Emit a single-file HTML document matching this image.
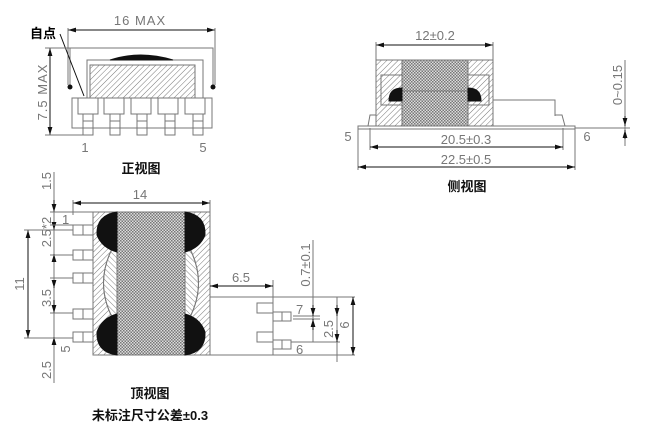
<!DOCTYPE html>
<html><head><meta charset="utf-8"><style>
html,body{margin:0;padding:0;background:#fff;}
svg{display:block;}
.t{font-family:"Liberation Sans","DejaVu Sans",sans-serif;fill:#777;font-size:13px;}
.c{font-family:"Liberation Sans","Noto Sans CJK SC",sans-serif;fill:#111;font-weight:bold;font-size:13px;}
</style></head><body>
<svg width="650" height="433" viewBox="0 0 650 433" xmlns="http://www.w3.org/2000/svg">
<defs>
<pattern id="h" width="4" height="4" patternUnits="userSpaceOnUse" patternTransform="rotate(45)"><rect width="4" height="4" fill="#fff"/><line x1="0" y1="0" x2="0" y2="4" stroke="#777" stroke-width="1"/></pattern>
<pattern id="h2" width="4" height="4" patternUnits="userSpaceOnUse" patternTransform="rotate(-45)"><rect width="4" height="4" fill="#fff"/><line x1="0" y1="0" x2="0" y2="4" stroke="#888" stroke-width="1"/></pattern>
<pattern id="x" width="3" height="3" patternUnits="userSpaceOnUse"><rect width="3" height="3" fill="#ddd"/><rect width="1.5" height="1.5" fill="#777"/><rect x="1.5" y="1.5" width="1.5" height="1.5" fill="#777"/></pattern>
<marker id="a" viewBox="0 0 10 6" refX="10" refY="3" markerWidth="8" markerHeight="5" orient="auto-start-reverse"><path d="M0,0L10,3L0,6z" fill="#111"/></marker>
</defs>
<g stroke="#777" stroke-width="1" fill="none">
<line x1="68" y1="30" x2="215" y2="30" stroke="#111" marker-start="url(#a)" marker-end="url(#a)"/>
<line x1="68" y1="28" x2="68" y2="85"/><line x1="215" y1="28" x2="215" y2="85"/>
<polyline points="70,85 70,48 213,48 213,85"/>
<rect x="72" y="98" width="140" height="30"/>
<rect x="87" y="60" width="116" height="38"/>
<rect x="90" y="65" width="105" height="33" fill="url(#h)"/>
<path d="M110,60 Q140,50 173,60 Z" fill="#111" stroke="#111"/>
<circle cx="70" cy="87" r="2.5" fill="#111" stroke="none"/><circle cx="213" cy="87" r="2.5" fill="#111" stroke="none"/>
<line x1="60" y1="34" x2="84" y2="96" stroke="#111"/>
<g>
<rect x="78" y="98" width="20" height="16"/><rect x="83" y="114" width="10" height="21"/><line x1="83" y1="121" x2="93" y2="121"/><line x1="83" y1="128" x2="93" y2="128"/>
<rect x="104" y="98" width="20" height="16"/><rect x="110" y="114" width="10" height="21"/><line x1="110" y1="121" x2="120" y2="121"/><line x1="110" y1="128" x2="120" y2="128"/>
<rect x="131" y="98" width="20" height="16"/><rect x="137" y="114" width="10" height="21"/><line x1="137" y1="121" x2="147" y2="121"/><line x1="137" y1="128" x2="147" y2="128"/>
<rect x="158" y="98" width="20" height="16"/><rect x="165" y="114" width="10" height="21"/><line x1="165" y1="121" x2="175" y2="121"/><line x1="165" y1="128" x2="175" y2="128"/>
<rect x="185" y="98" width="20" height="16"/><rect x="193" y="114" width="10" height="21"/><line x1="193" y1="121" x2="203" y2="121"/><line x1="193" y1="128" x2="203" y2="128"/>
</g>
<line x1="50" y1="48" x2="50" y2="135" stroke="#111" marker-start="url(#a)" marker-end="url(#a)"/>
<line x1="45" y1="48" x2="70" y2="48"/><line x1="45" y1="135" x2="85" y2="135"/>

<line x1="376" y1="45" x2="493" y2="45" stroke="#111" marker-start="url(#a)" marker-end="url(#a)"/>
<line x1="376" y1="42" x2="376" y2="60"/><line x1="493" y1="42" x2="493" y2="60"/>
<rect x="376" y="60" width="117" height="66" fill="url(#h)"/>
<rect x="402" y="60" width="66" height="66" fill="url(#x)"/>
<rect x="381" y="75" width="21" height="30"/><rect x="468" y="75" width="21" height="30"/>
<line x1="402" y1="91" x2="468" y2="91"/>
<path d="M389,101 Q389,88 402,88 L402,101 Z" fill="#111" stroke="#111"/>
<path d="M481,101 Q481,88 468,88 L468,101 Z" fill="#111" stroke="#111"/>
<polyline points="493,100 555,100 555,116"/>
<polyline points="358,128 358,126 368,126 370,115 376,115"/>
<polyline points="575,128 575,126 565,126 562,115 555,115"/>
<rect x="358" y="126" width="217" height="3"/>
<line x1="575" y1="128" x2="630" y2="128"/>
<line x1="370" y1="128" x2="370" y2="150"/><line x1="563" y1="128" x2="563" y2="150"/>
<line x1="358" y1="128" x2="358" y2="170"/><line x1="575" y1="128" x2="575" y2="170"/>
<line x1="370" y1="147" x2="563" y2="147" stroke="#111" marker-start="url(#a)" marker-end="url(#a)"/>
<line x1="358" y1="167" x2="575" y2="167" stroke="#111" marker-start="url(#a)" marker-end="url(#a)"/>
<line x1="625" y1="60" x2="625" y2="146"/>
<line x1="625" y1="116" x2="625" y2="126" stroke="#111" marker-end="url(#a)"/>
<line x1="625" y1="139" x2="625" y2="130" stroke="#111" marker-end="url(#a)"/>

<line x1="73" y1="203" x2="210" y2="203" stroke="#111" marker-start="url(#a)" marker-end="url(#a)"/>
<line x1="73" y1="200" x2="73" y2="215"/><line x1="210" y1="200" x2="210" y2="212"/>
<rect x="93" y="212" width="117" height="143" fill="url(#h)"/>
<path d="M117,240 Q90,283 117,326 Z" fill="url(#h2)"/>
<path d="M185,240 Q212,283 185,326 Z" fill="url(#h2)"/>
<path d="M117,240 Q90,283 117,326" /><path d="M185,240 Q212,283 185,326"/>
<rect x="117" y="212" width="68" height="143" fill="url(#x)"/>
<path d="M117,212 Q96,215 97,235 Q102,248 117,252 Z" fill="#111" stroke="#111"/>
<path d="M185,212 Q206,215 205,235 Q200,248 185,252 Z" fill="#111" stroke="#111"/>
<path d="M117,355 Q96,352 97,332 Q102,318 117,314 Z" fill="#111" stroke="#111"/>
<path d="M185,355 Q206,352 205,332 Q200,318 185,314 Z" fill="#111" stroke="#111"/>
<g>
<rect x="73" y="225" width="20" height="10"/><line x1="83" y1="225" x2="83" y2="235"/>
<rect x="73" y="250" width="20" height="10"/><line x1="83" y1="250" x2="83" y2="260"/>
<rect x="73" y="273" width="20" height="10"/><line x1="83" y1="273" x2="83" y2="283"/>
<rect x="73" y="309" width="20" height="10"/><line x1="83" y1="309" x2="83" y2="319"/>
<rect x="73" y="332" width="20" height="10"/><line x1="83" y1="332" x2="83" y2="342"/>
</g>
<line x1="54" y1="172" x2="54" y2="383"/>
<line x1="54" y1="200" x2="54" y2="212" stroke="#111" marker-end="url(#a)"/>
<line x1="54" y1="224" x2="54" y2="230" stroke="#111" marker-end="url(#a)"/>
<line x1="54" y1="260" x2="54" y2="254" stroke="#111" marker-end="url(#a)"/>
<line x1="54" y1="282" x2="54" y2="288" stroke="#111" marker-end="url(#a)"/>
<line x1="54" y1="300" x2="54" y2="313" stroke="#111" marker-end="url(#a)"/>
<line x1="54" y1="345" x2="54" y2="337" stroke="#111" marker-end="url(#a)"/>
<line x1="28" y1="230" x2="28" y2="338" stroke="#111" marker-start="url(#a)" marker-end="url(#a)"/>
<line x1="24" y1="230" x2="73" y2="230"/><line x1="24" y1="338" x2="73" y2="338"/>
<line x1="50" y1="212" x2="93" y2="212"/><line x1="50" y1="225" x2="73" y2="225"/>
<line x1="50" y1="255" x2="73" y2="255"/><line x1="50" y1="278" x2="73" y2="278"/><line x1="50" y1="313" x2="73" y2="313"/>
<rect x="210" y="297" width="63" height="58"/>
<line x1="210" y1="355" x2="355" y2="355"/>
<line x1="273" y1="297" x2="355" y2="297"/>
<line x1="273" y1="280" x2="273" y2="297"/>
<line x1="210" y1="286" x2="273" y2="286" stroke="#111" marker-start="url(#a)" marker-end="url(#a)"/>
<rect x="257" y="303" width="16" height="10"/><rect x="273" y="312" width="18" height="9"/><line x1="282" y1="312" x2="282" y2="321"/>
<rect x="257" y="332" width="16" height="10"/><rect x="273" y="340" width="18" height="9"/><line x1="282" y1="340" x2="282" y2="349"/>
<line x1="293" y1="316" x2="320" y2="316"/><line x1="293" y1="319" x2="320" y2="319"/>
<line x1="291" y1="342" x2="340" y2="342"/>
<line x1="313" y1="240" x2="313" y2="342"/>
<line x1="313" y1="305" x2="313" y2="316" stroke="#111" marker-end="url(#a)"/>
<line x1="313" y1="330" x2="313" y2="319" stroke="#111" marker-end="url(#a)"/>
<line x1="337" y1="297" x2="337" y2="362"/>
<line x1="337" y1="305" x2="337" y2="316" stroke="#111" marker-end="url(#a)"/>
<line x1="337" y1="330" x2="337" y2="342" stroke="#111" marker-end="url(#a)"/>
<line x1="353" y1="297" x2="353" y2="355" stroke="#111" marker-start="url(#a)" marker-end="url(#a)"/>
</g>
<text class="t" x="140" y="25" text-anchor="middle" font-size="14" letter-spacing="1">16 MAX</text>
<text class="c" x="30" y="38" font-size="17" style="fill:#000">自点</text>
<text class="t" transform="translate(47,92) rotate(-90)" text-anchor="middle" font-size="13" letter-spacing="1">7.5 MAX</text>
<text class="t" x="85" y="152" text-anchor="middle" font-size="15">1</text>
<text class="t" x="203" y="152" text-anchor="middle" font-size="15">5</text>
<text class="c" x="141" y="173" text-anchor="middle">正视图</text>
<text class="t" x="435" y="40" text-anchor="middle">12±0.2</text>
<text class="t" x="348" y="141" text-anchor="middle">5</text>
<text class="t" x="587" y="141" text-anchor="middle">6</text>
<text class="t" x="466" y="144" text-anchor="middle">20.5±0.3</text>
<text class="t" x="466" y="164" text-anchor="middle">22.5±0.5</text>
<text class="t" transform="translate(622,85) rotate(-90)" text-anchor="middle" font-size="12">0~0.15</text>
<text class="c" x="467" y="191" text-anchor="middle">侧视图</text>
<text class="t" x="140" y="199" text-anchor="middle">14</text>
<text class="t" transform="translate(51,181) rotate(-90)" text-anchor="middle">1.5</text>
<text class="t" transform="translate(51,232) rotate(-90)" text-anchor="middle">2.5*2</text>
<text class="t" x="62" y="224">1</text>
<text class="t" transform="translate(24,284) rotate(-90)" text-anchor="middle">11</text>
<text class="t" transform="translate(51,298) rotate(-90)" text-anchor="middle">3.5</text>
<text class="t" transform="translate(70,349) rotate(-90)" text-anchor="middle">5</text>
<text class="t" transform="translate(51,370) rotate(-90)" text-anchor="middle">2.5</text>
<text class="t" x="241" y="282" text-anchor="middle">6.5</text>
<text class="t" transform="translate(310,265) rotate(-90)" text-anchor="middle" font-size="12">0.7±0.1</text>
<text class="t" x="296" y="314">7</text>
<text class="t" x="296" y="354">6</text>
<text class="t" transform="translate(333,329) rotate(-90)" text-anchor="middle">2.5</text>
<text class="t" transform="translate(349,325) rotate(-90)" text-anchor="middle">6</text>
<text class="c" x="150" y="398" text-anchor="middle">顶视图</text>
<text class="c" x="150" y="420" text-anchor="middle">未标注尺寸公差±0.3</text>
</svg>
</body></html>
